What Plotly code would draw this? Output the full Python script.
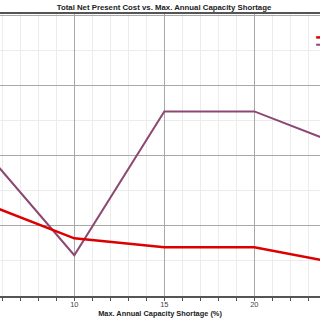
import plotly.graph_objects as go

shortage = [5, 10, 15, 20, 25]
npc_red = [1.657, 1.407, 1.343, 1.343, 1.221]
npc_purple = [2.036, 1.286, 2.314, 2.314, 2.064]
x_ticks = [10, 15, 20]

fig = go.Figure()
fig.add_trace(go.Scatter(x=shortage, y=npc_purple, mode="lines",
                         line=dict(color="#8c4872", width=2), showlegend=False))
fig.add_trace(go.Scatter(x=shortage, y=npc_red, mode="lines",
                         line=dict(color="#dd0000", width=2.6), showlegend=False))

# legend swatches (cut off at the right edge)
fig.add_shape(type="line", xref="paper", yref="paper", x0=0.988, x1=1.0, y0=0.917, y1=0.917,
              line=dict(color="#dd0000", width=2.5))
fig.add_shape(type="line", xref="paper", yref="paper", x0=0.988, x1=1.0, y0=0.891, y1=0.891,
              line=dict(color="#8c4872", width=2))

fig.update_layout(
    width=320, height=320,
    margin=dict(l=0, r=0, t=14, b=24, autoexpand=False),
    paper_bgcolor="white", plot_bgcolor="white",
    font=dict(family="Liberation Sans", color="#222222"),
    title=dict(text="<b>Total Net Present Cost vs. Max. Annual Capacity Shortage</b>",
               x=0.5125, xanchor="center", y=0.987, yanchor="top",
               font=dict(size=7.8, color="#222222")),
)
fig.update_xaxes(
    range=[5.872, 23.65], tickvals=x_ticks, ticktext=[str(v) for v in x_ticks],
    showgrid=True, gridcolor="#a8a8a8", gridwidth=1,
    ticks="outside", ticklen=3, tickcolor="#555555",
    tickfont=dict(size=7.5, color="#444444"), ticklabelstandoff=-3,
    showline=True, linecolor="#555555", linewidth=1.5, mirror=True,
    zeroline=False,
    minor=dict(dtick=1, tick0=0, showgrid=True, gridcolor="#ececec", ticks="outside",
               ticklen=3, tickcolor="#555555"),
    title=dict(text="<b>Max. Annual Capacity Shortage (%)</b>", font=dict(size=7.4, color="#222222"),
               standoff=0),
)
fig.update_yaxes(
    range=[0.995, 3.01], dtick=0.5, tick0=0, showticklabels=False,
    showgrid=True, gridcolor="#a8a8a8", gridwidth=1, zeroline=False, ticks="",
    minor=dict(dtick=0.25, tick0=0, showgrid=True, gridcolor="#ececec"),
    showline=False,
)

fig.write_html("out.html")
